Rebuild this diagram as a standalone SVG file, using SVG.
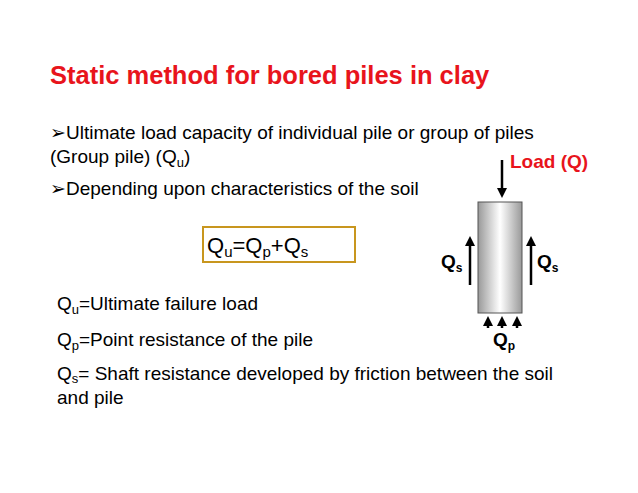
<svg xmlns="http://www.w3.org/2000/svg" width="638" height="493" viewBox="0 0 638 493">
<style>
text{font-family:"Liberation Sans",Arial,sans-serif;font-size:19px;fill:#000}
.b{font-weight:bold}
.a{stroke:#000;stroke-width:2.5;fill:none}
</style>
<defs>
<marker id="ah" markerWidth="4" markerHeight="4" refX="2" refY="2" orient="auto" markerUnits="strokeWidth"><path d="M0,0L4,2L0,4z" fill="#000"/></marker>
<linearGradient id="g" x1="0" x2="1"><stop offset="0" stop-color="#999"/><stop offset="0.5" stop-color="#fff"/><stop offset="1" stop-color="#999"/></linearGradient>
</defs>
<rect width="638" height="493" fill="#fff"/>
<text x="50" y="84" class="b" style="font-size:25.5px;fill:#e8141c">Static method for bored piles in clay</text>
<text x="50" y="139">➢Ultimate load capacity of individual pile or group of piles</text>
<text x="50" y="163">(Group pile) (Q<tspan font-size="13" dy="4">u</tspan><tspan dy="-4">)</tspan></text>
<text x="50" y="195">➢Depending upon characteristics of the soil</text>
<g id="eq"><rect x="203" y="227" width="152" height="35" fill="#fff" stroke="#c8961e" stroke-width="2"/>
<text x="207" y="253" style="font-size:22px">Q<tspan font-size="15" dy="4">u</tspan><tspan dy="-4">=Q</tspan><tspan font-size="15" dy="4">p</tspan><tspan dy="-4">+Q</tspan><tspan font-size="15" dy="4">s</tspan></text></g>
<text x="57" y="310">Q<tspan font-size="13" dy="4">u</tspan><tspan dy="-4">=Ultimate failure load</tspan></text>
<text x="57" y="346">Q<tspan font-size="13" dy="4">p</tspan><tspan dy="-4">=Point resistance of the pile</tspan></text>
<text x="57" y="380">Q<tspan font-size="13" dy="3">s</tspan><tspan dy="-3">= Shaft resistance developed by friction between the soil</tspan></text>
<text x="57" y="404">and pile</text>
<g id="pile"><rect x="478" y="202" width="44" height="111" fill="url(#g)" stroke="#555" stroke-width="1"/></g>
<g id="connectors">
<line class="a" x1="502" y1="160" x2="502" y2="193" marker-end="url(#ah)"/>
<line class="a" x1="470" y1="285" x2="470" y2="241" marker-end="url(#ah)"/>
<line class="a" x1="531" y1="285" x2="531" y2="241" marker-end="url(#ah)"/>
<line class="a" x1="488" y1="328" x2="488" y2="321" marker-end="url(#ah)"/>
<line class="a" x1="502" y1="328" x2="502" y2="321" marker-end="url(#ah)"/>
<line class="a" x1="517" y1="328" x2="517" y2="321" marker-end="url(#ah)"/>
</g>
<text x="510" y="168" class="b" style="fill:#e8141c">Load (Q)</text>
<text x="441" y="268" class="b">Q<tspan font-size="12" dy="4">s</tspan></text>
<text x="537" y="268" class="b">Q<tspan font-size="12" dy="4">s</tspan></text>
<text x="493" y="346" class="b">Q<tspan font-size="12" dy="4">p</tspan></text>
</svg>
